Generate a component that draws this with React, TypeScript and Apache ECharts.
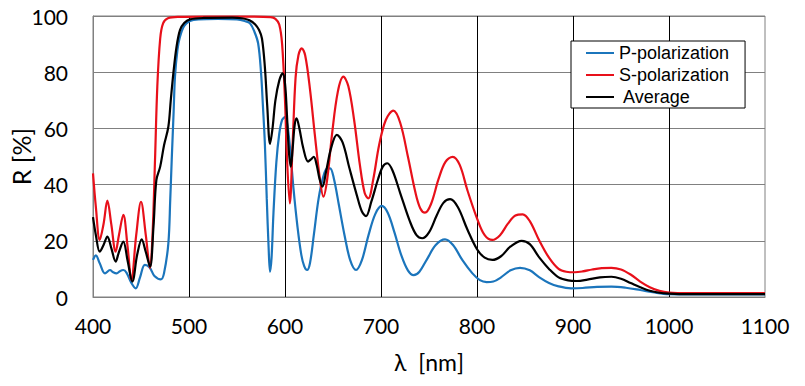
import React, { useEffect, useRef } from "react";
import * as echarts from "echarts";

// wavelength [nm], reflectance [%] pairs
const pPolarization: [number, number][] = [
  [400, 13.2], [403, 14.8], [407, 12], [412.5, 8.4], [417.7, 9.6], [421, 8.8], [424.6, 8.4], [428, 9.2],
  [431.6, 9.6], [435, 8.6], [440, 5], [444.5, 3.1], [449, 7], [454, 11.4], [459, 10.5], [464, 7.5],
  [470.8, 6.3], [474, 8.5], [478.5, 19.1], [480.5, 35], [482, 48.8], [484, 66], [485.4, 78.4], [488, 88],
  [490.6, 92.6], [495, 96.5], [501, 98.2], [510, 98.8], [530, 99], [550, 98.8], [558, 98.2], [563.5, 97.4],
  [568, 94.5], [572, 90.3], [575, 80], [577, 68], [579, 54.8], [581, 35], [583, 17], [584.4, 9],
  [586, 14], [588, 30], [591, 48], [594, 58], [597, 63], [600, 64], [603, 60], [606, 50], [609, 38],
  [613, 25], [617, 15], [620, 11], [623, 9.6], [626, 12], [630, 22], [635, 35], [640, 43], [644, 45.8],
  [647, 45.8], [651, 42], [656, 33], [662, 22], [668, 13], [674, 9.6], [680, 13], [687, 22], [694, 29.5],
  [700.7, 32.4], [707, 30], [714, 23], [721, 15], [728, 9.5], [734, 7.8], [740, 9], [748, 13.5],
  [757, 18.5], [766.7, 20.5], [775, 18.5], [785, 13], [795, 8.5], [803, 6], [810, 5.3], [817, 5.5],
  [825, 7], [835, 9.5], [844.8, 10.4], [855, 9.5], [865, 7], [875, 5], [885, 3.8], [898, 3.1], [910, 3.2],
  [925, 3.6], [940, 3.7], [955, 3.3], [970, 2.5], [985, 1.6], [1000, 1.0], [1020, 0.9], [1100, 0.9],
];

const sPolarization: [number, number][] = [
  [400, 44], [403, 32], [407, 20.3], [411, 26], [415, 34.3], [419, 26], [423.6, 16.1], [427, 22],
  [431.6, 29.2], [436, 18], [440, 6], [445, 22], [450, 33.9], [455, 22], [459.4, 10.2], [462, 22],
  [464.6, 48.7], [467, 75], [470, 92], [473, 97.4], [478, 99.2], [490, 99.7], [520, 99.8], [560, 99.8],
  [585, 99.6], [590, 99], [594, 97], [597, 90], [600, 70], [602, 50], [605, 33.3], [608, 55], [611, 78],
  [614, 86], [617.4, 88.5], [621, 86], [626, 74], [631, 58], [636, 43], [640, 35.7], [644, 42], [649, 58],
  [655, 73], [660.8, 78.4], [666, 75], [672, 63], [678, 47], [683, 37], [686.8, 35.1], [692, 42], [698, 54],
  [705, 63], [712.8, 66.3], [720, 62], [728, 50], [736, 37], [741, 31.5], [745.8, 30], [752, 33], [760, 42],
  [767, 48], [774.7, 49.9], [782, 47], [790, 38], [800, 28], [808, 22], [816, 20.3], [824, 22], [832, 26],
  [840, 29], [847.6, 29.4], [855, 27], [865, 20], [875, 14], [885, 10], [893, 9], [902, 8.8], [910, 9.1],
  [920, 9.8], [930, 10.3], [940, 10.4], [950, 9.8], [960, 8], [970, 5.5], [980, 3.5], [990, 2.2],
  [1000, 1.6], [1020, 1.4], [1050, 1.4], [1100, 1.4],
];

const average: [number, number][] = [
  [400, 28.4], [403, 22], [407, 16.1], [411, 18.5], [415, 21.5], [419, 17.5], [423.6, 12.6], [427, 16],
  [431.6, 19.7], [436, 13], [441, 5.5], [446, 15], [450.7, 20.5], [455, 16], [459.4, 10.8], [463, 25],
  [466, 41.6], [470, 46.4], [474, 54], [478.5, 60.6], [481, 70], [483.7, 79.6], [487, 89], [490.6, 95],
  [495, 97.5], [501, 98.8], [515, 99.3], [545, 99.4], [555, 99.2], [563, 98.5], [569, 97], [573, 95],
  [576, 92], [579, 82], [581.5, 68], [584.4, 54.5], [587, 60], [590, 70], [594, 77], [597.6, 79.6],
  [600, 76], [602, 65], [604, 52], [606, 46.4], [608, 53], [610, 61], [612, 63.6], [615, 60], [619, 53],
  [624, 48.2], [627, 49], [630, 49.9], [633, 47], [636, 42], [639, 39.3], [643, 45], [648, 53], [654, 57.7],
  [660, 55], [667, 46], [675, 36], [680, 30.5], [684.4, 28.8], [690, 34], [697, 42], [702, 46.5],
  [706.6, 47.6], [712, 45], [720, 37], [730, 27], [737, 22], [743, 20.9], [750, 23], [758, 29], [765, 33.5],
  [772, 34.8], [780, 32], [790, 24], [800, 17], [808, 14], [816, 13.2], [825, 14.5], [835, 18], [846.5, 20],
  [855, 18.8], [865, 14], [875, 10], [885, 7], [895, 5.9], [904, 5.7], [915, 6.2], [928, 7], [940, 7.2],
  [950, 6.5], [960, 5], [970, 3.5], [980, 2.2], [990, 1.5], [1000, 1.2], [1020, 1.0], [1100, 1.0],
];

const seriesNames = ["P-polarization", "S-polarization", "Average"];
const seriesColors = ["#1B75BC", "#E8101A", "#000000"];

export default function App() {
  const ref = useRef<HTMLDivElement>(null);
  useEffect(() => {
    if (!ref.current) return;
    const chart = echarts.init(ref.current, undefined, { renderer: "svg" });
    const datasets = [pPolarization, sPolarization, average];
    const font = "Lato, 'Open Sans', sans-serif";
    chart.setOption({
      animation: false,
      backgroundColor: "#ffffff",
      grid: {
        left: 93,
        top: 16,
        width: 672,
        height: 281,
        show: true,
        borderColor: "#808080",
        borderWidth: 1,
        containLabel: false,
        outerBoundsMode: "none",
      },
      legend: {
        data: seriesNames,
        orient: "vertical",
        left: 571,
        top: 41,
        backgroundColor: "#ffffff",
        borderColor: "#000000",
        borderWidth: 1,
        borderRadius: 0,
        padding: [3, 16, 2, 15],
        itemGap: 4,
        itemWidth: 28,
        itemHeight: 2,
        icon: "rect",
        formatter: (n: string) => (n === "Average" ? " Average" : n),
        textStyle: {
          fontFamily: "'Liberation Sans', Arial, sans-serif",
          fontSize: 18,
          color: "#000",
          lineHeight: 18,
        },
      },
      xAxis: {
        type: "value",
        min: 400,
        max: 1100,
        interval: 100,
        name: "λ  [nm]",
        nameLocation: "middle",
        nameGap: 53,
        nameMoveOverlap: false,
        nameTextStyle: { fontFamily: font, fontSize: 23, color: "#000" },
        axisLine: { show: true, lineStyle: { color: "#808080", width: 1 } },
        axisTick: { show: false },
        axisLabel: {
          fontFamily: font,
          fontSize: 21,
          color: "#000",
          margin: 18,
          formatter: (v: number) => String(v),
        },
        splitLine: {
          show: true,
          showMinLine: false,
          showMaxLine: false,
          lineStyle: { color: "#000000", width: 1 },
        },
      },
      yAxis: {
        type: "value",
        min: 0,
        max: 100,
        interval: 20,
        name: "R [%]",
        nameLocation: "middle",
        nameGap: 72,
        nameMoveOverlap: false,
        nameRotate: 90,
        nameTextStyle: {
          fontFamily: font,
          fontSize: 25,
          color: "#000",
          verticalAlign: "middle",
        },
        axisLine: { show: true, lineStyle: { color: "#808080", width: 1 } },
        axisTick: { show: false },
        axisLabel: { fontFamily: font, fontSize: 21, color: "#000", margin: 25 },
        splitLine: { show: true, lineStyle: { color: "#808080", width: 1 } },
      },
      series: datasets.map((d, i) => ({
        name: seriesNames[i],
        type: "line",
        data: d,
        showSymbol: false,
        smooth: 0.35,
        lineStyle: { color: seriesColors[i], width: 2.2 },
        itemStyle: { color: seriesColors[i] },
        z: 2 + i,
      })),
    });
    return () => chart.dispose();
  }, []);
  return (
    <div
      ref={ref}
      style={{ position: "absolute", left: 0, top: 0, width: 805, height: 386 }}
    />
  );
}
